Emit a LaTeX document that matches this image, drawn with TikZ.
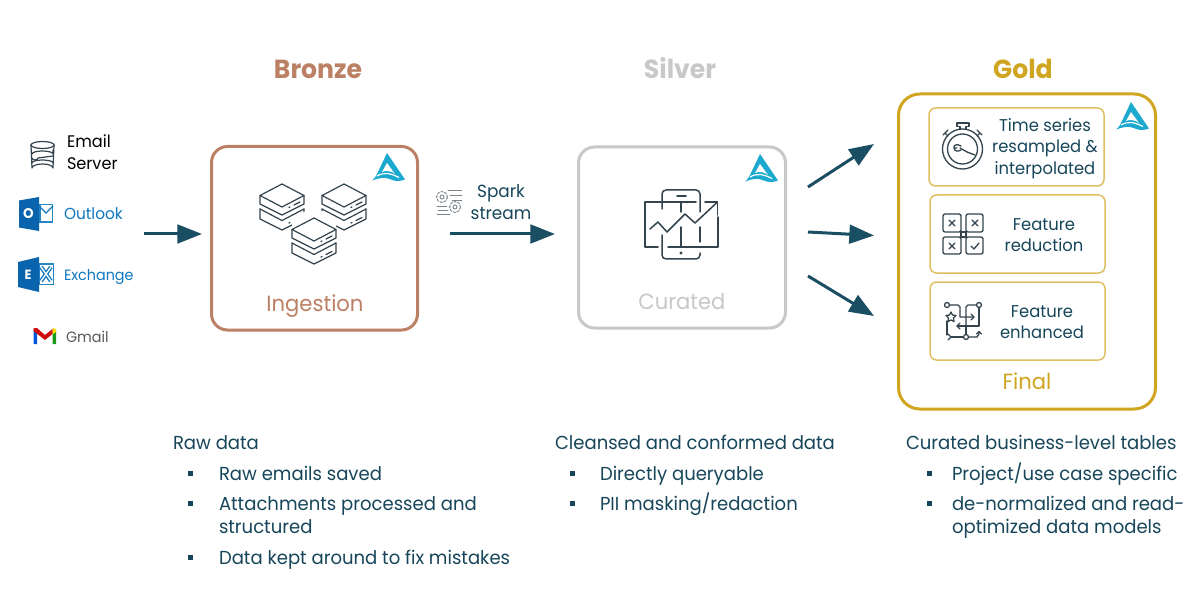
\documentclass[tikz,border=0pt]{standalone}
\usepackage{fontspec}
\setmainfont{Poppins}[FakeStretch=0.96]
\usetikzlibrary{arrows.meta}
\definecolor{teal}{HTML}{17465A}
\definecolor{arrowc}{HTML}{1A4E63}
\definecolor{bronzec}{HTML}{BC8064}
\definecolor{silverc}{HTML}{C8C8C8}
\definecolor{goldc}{HTML}{D0A51F}
\definecolor{goldl}{HTML}{E0BE62}
\definecolor{iconc}{HTML}{33444E}
\definecolor{logoc}{HTML}{1BA9CF}
\definecolor{msblue}{HTML}{0F78C0}
\definecolor{msdark}{HTML}{0A64AD}
\tikzset{
  x=0.75pt,y=-0.75pt,
  px/.style={line width=#1*0.75pt},
  lbl/.style={anchor=base west,inner sep=0pt,outer sep=0pt,text=teal,font=\fontsize{14.1}{17}\selectfont},
  mid/.style={anchor=base,inner sep=0pt,outer sep=0pt,text=teal,font=\fontsize{12.8}{16}\selectfont},
  title/.style={anchor=base,inner sep=0pt,outer sep=0pt,font=\fontsize{19.6}{23}\selectfont\bfseries},
  stage/.style={anchor=base,inner sep=0pt,outer sep=0pt,font=\fontsize{16.5}{20}\selectfont},
  flow/.style={draw=arrowc,px=3,-{Triangle[length=18.5pt,width=14pt,fill=arrowc]}},
  bul/.style={fill=teal,draw=none},
  ico/.style={draw=iconc,px=1.2,line join=round,line cap=round},
  frame/.style={draw=#1,px=3,rounded corners=12pt,fill=white},
  inner box/.style={draw=goldl,px=1.5,rounded corners=5pt,fill=white},
  logo/.pic={
    \fill[logoc] (-1,-15) -- (17,11.5) .. controls (12,13.5) and (7,13.5) .. (3,11.5) .. controls (-3,8.5) and (-9,10) .. (-16,12.5) .. controls (-13,10) and (-12,8) .. (-11,6) -- cycle;
    \fill[white] (-1,-5) -- (7,6) .. controls (4,3) and (-3,2) .. (-6,4) -- cycle;
    \draw[white,px=1.2] (-11,8) .. controls (-4,4) and (2,5) .. (11,9.5);
  },
  srv/.pic={
    \draw[ico] (0,0) -- (22,11.5) -- (0,23) -- (-22,11.5) -- cycle;
    \draw[ico] (-22,11.5) -- (-22,20) -- (0,31) -- (22,20) -- (22,11.5);
    \draw[ico] (-22,25) -- (-22,35) -- (0,46) -- (22,35) -- (22,25);
    \draw[ico] (-22,25) -- (0,36.5) -- (22,25);
    \draw[ico] (7,23.5) -- (8,23) (12,21) -- (18,18);
    \draw[ico] (7,39) -- (8,38.5) (12,36.5) -- (18,33.5);
  }
}
\begin{document}
\begin{tikzpicture}
\useasboundingbox[fill=white] (0,0) rectangle (1200,606);

% titles
\node[title,text=bronzec] (tBronze) at (318,79) {Bronze};
\node[title,text=silverc] (tSilver) at (680,79) {Silver};
\node[title,text=goldc] (tGold) at (1023,79) {Gold};

% stage frames
\path[frame=bronzec] (211.5,146.5) rectangle (417.5,330);
\path[frame=silverc] (578.5,147) rectangle (785.5,328);
\path[frame=goldc,rounded corners=16pt] (898.5,94) rectangle (1155.5,409);
\path[inner box] (929,108) rectangle (1104,186);
\path[inner box] (930,195) rectangle (1105,273);
\path[inner box] (930,282) rectangle (1105,360);

\node[stage,text=bronzec] (lIngest) at (315,311) {Ingestion};
\node[stage,text=silverc] (lCurated) at (682,309) {Curated};
\node[stage,text=goldc] (lFinal) at (1027,389) {Final};

% logos
\pic at (388,168) {logo};
\pic at (761,169) {logo};
\pic at (1132,117) {logo};

% servers
\pic at (282,184) {srv};
\pic at (344,184) {srv};
\path[fill=white] (292,218) -- (314,207) -- (336,218) -- (336,253) -- (314,265) -- (292,253) -- cycle;
\pic at (314,218) {srv};

% curated icon
\begin{scope}[ico,px=1.5]
\draw[rounded corners=3pt] (662,209) -- (662,190) -- (700,190) -- (700,212);
\draw[rounded corners=3pt] (662,235) -- (662,259) -- (700,259) -- (700,253);
\draw (700,227) -- (700,242);
\draw (677,196) -- (686,196);
\draw (681,202) -- (681,212) (681,227) -- (681,247);
\draw (696,202) -- (645,202) -- (645,247) -- (658,247);
\draw (668,247) -- (718,247) -- (718,217);
\draw (705,202) -- (717.5,202) -- (717.5,215);
\draw (650,229) -- (658,222) -- (667,232) -- (685,214) -- (695,223) -- (717,202.5);
\fill[iconc] (681,253) circle (1.6);
\end{scope}

% email server icon
\begin{scope}[ico]
\draw (31,145) arc[start angle=180,end angle=360,x radius=11.5,y radius=3.5];
\draw (31,145) arc[start angle=180,end angle=0,x radius=11.5,y radius=3.5];
\draw (31,145) -- (32,168) arc[start angle=180,end angle=360,x radius=10.5,y radius=4] -- (54,145);
\draw (32,154) arc[start angle=180,end angle=360,x radius=10.5,y radius=3] -- (53,150);
\draw (32,158) arc[start angle=180,end angle=0,x radius=3,y radius=2] -- (53,156);
\draw (32,163) arc[start angle=180,end angle=360,x radius=10.5,y radius=3];
\end{scope}
\node[lbl,text=black,font=\fontsize{12.6}{16}\selectfont] (email) at (67,148) {Email};
\node[lbl,text=black,font=\fontsize{12.6}{16}\selectfont] (server) at (67,170) {Server};

% outlook
\fill[msblue!90!white] (39,204) -- (53,204) -- (53,223) -- (39,223) -- cycle;
\fill[white] (40.5,205.5) -- (51.5,205.5) -- (51.5,221.5) -- (40.5,221.5) -- cycle;
\draw[msblue,px=1.2] (39,206) -- (46,213) -- (53,206);
\fill[msdark] (19,200.5) -- (39,197) -- (39,231) -- (19,227.5) -- cycle;
\node[anchor=center,inner sep=0pt,text=white,font=\fontsize{10.5}{12}\selectfont\bfseries] (oIcon) at (28.5,214) {O};
\node[lbl,text=msblue,font=\fontsize{12}{15}\selectfont] (outlook) at (64,220) {Outlook};

% exchange
\fill[msblue!90!white] (38,263) rectangle (54,285);
\fill[white] (39.5,264.5) rectangle (52.5,283.5);
\draw[msblue,px=4] (41,267) -- (51,281) (51,267) -- (41,281);
\draw[white,px=1.3] (41,267) -- (51,281) (51,267) -- (41,281);
\fill[msdark] (18,262) -- (39,257) -- (39,292) -- (18,287) -- cycle;
\node[anchor=center,inner sep=0pt,text=white,font=\fontsize{10}{12}\selectfont\bfseries] (eIcon) at (28,274.5) {E};
\node[lbl,text=msblue,font=\fontsize{11.2}{15}\selectfont] (exchange) at (64,281) {Exchange};

% gmail
\fill[blue!60!cyan!85!black] (33.5,330) -- (37,329) -- (37,344) -- (33.5,344) -- cycle;
\fill[green!55!black!90!white] (52.5,329) -- (56,330) -- (56,344) -- (52.5,344) -- cycle;
\fill[red!80!black!95!white] (33.5,328) -- (37,328) -- (45,335) -- (52.5,329) -- (52.5,334) -- (45,340) -- (33.5,331) -- cycle;
\fill[yellow!80!orange] (52.5,328) -- (56,329) -- (56,332) -- (52.5,334.5) -- cycle;
\node[lbl,text=black!65,font=\fontsize{11.2}{14}\selectfont] (gmail) at (66,342) {Gmail};

% spark
\node[mid,font=\fontsize{13.2}{16}\selectfont] (spark) at (501,198) {Spark};
\node[mid,font=\fontsize{13.2}{16}\selectfont] (stream) at (501,220) {stream};
\begin{scope}[ico,px=0.9,draw=iconc!65]
\draw (442,197) circle (2);
\draw (455,207) circle (2);
\draw[dash pattern=on 1.8pt off 1.2pt,px=1] (442,197) circle (5.5) (455,207) circle (5.5);
\draw (448,190) -- (462,190) (450,195) -- (462,195) (452,200) -- (462,200) (437,206) -- (447,206) (438,210) -- (448,210) (437,214) -- (450,214);
\end{scope}

% stopwatch
\begin{scope}[ico,px=1.3]
\draw (962.5,149) circle (20) (962.5,149) circle (15);
\draw (960,129) -- (960,126.5) -- (957,126.5) -- (957,123) -- (969,123) -- (969,126.5) -- (966,126.5) -- (966,129);
\draw (948,136) -- (945,133) (943,135) -- (948,130) (977,136) -- (980,133) (982,135) -- (977,130);
\draw (960,148) -- (967,152) -- (975,155);
\draw (961,146) .. controls (957,143.5) and (953,145) .. (954,148) -- (957,148) (954,148) .. controls (954,151) and (958,152) .. (961,150);
\end{scope}
\node[mid] (ts1) at (1045,132) {Time series};
\node[mid] (ts2) at (1045,153) {resampled \&};
\node[mid] (ts3) at (1045,175) {interpolated};

% feature reduction icon
\begin{scope}[ico,px=1.3]
\draw[rounded corners=1.5pt] (943,214) rectangle (961,232);
\draw[rounded corners=1.5pt] (966,214) rectangle (983,232);
\draw[rounded corners=1.5pt] (943,237) rectangle (961,254);
\draw[rounded corners=1.5pt] (966,237) rectangle (983,254);
\draw (949,220) -- (955,226) (955,220) -- (949,226);
\draw (972,220) -- (978,226) (978,220) -- (972,226);
\draw (949,243) -- (955,249) (955,243) -- (949,249);
\draw (971,246) -- (974,249) -- (979,243);
\draw (961,232) -- (961,237) (966,232) -- (966,237) (961,232) -- (966,232) (961,237) -- (966,237);
\end{scope}
\node[mid] (fr1) at (1044,231) {Feature};
\node[mid] (fr2) at (1044,252) {reduction};

% feature enhanced icon
\begin{scope}[ico,px=1.3]
\draw (947,305) circle (2.5) (979,305) circle (2.5) (966,337) circle (2.5);
\draw (949.5,305) -- (958,305) -- (960,307) -- (960,317) -- (974,317);
\draw (971,314) -- (974,317) -- (971,320);
\draw (976.5,305) -- (968,305) -- (966,307) -- (966,325);
\draw (979,307.5) -- (979,326) -- (957,326);
\draw (960,323) -- (957,326) -- (960,329);
\draw (966,326) -- (966,334.5);
\draw (968.5,337) -- (977,337) -- (979,334) -- (979,332);
\draw (976.5,334) -- (979,331.5) -- (981.5,334);
\draw (963.5,337) -- (951,337);
\draw (948,334) -- (951,337) -- (948,340);
\draw (947,321) -- (947,335);
\draw (951,312) -- (952.5,315) -- (956,315.5) -- (953.5,318) -- (954,321.5) -- (951,320) -- (948,321.5) -- (948.5,318) -- (946,315.5) -- (949.5,315) -- cycle;
\end{scope}
\node[mid] (fe1) at (1042,317) {Feature};
\node[mid] (fe2) at (1042,338) {enhanced};

% connectors
\coordinate (a1) at (144,234); \coordinate (b1) at (202,234);
\coordinate (a2) at (450,234); \coordinate (b2) at (555,234);
\coordinate (a3) at (808,187); \coordinate (b3) at (874,144);
\coordinate (a4) at (808,232); \coordinate (b4) at (874,235.5);
\coordinate (a5) at (808,276); \coordinate (b5) at (874,316);
\draw[flow] (a1) -- (b1);
\draw[flow] (a2) -- (b2);
\draw[flow] (a3) -- (b3);
\draw[flow] (a4) -- (b4);
\draw[flow] (a5) -- (b5);

% descriptions
\node[lbl] (d1) at (173,449) {Raw data};
\node[lbl] (d2) at (219,480) {Raw emails saved};
\node[lbl] (d3) at (219,510) {Attachments processed and};
\node[lbl] (d4) at (219,533) {structured};
\node[lbl] (d5) at (219,564) {Data kept around to fix mistakes};
\fill[bul] (188,471) rectangle (192.5,475.5);
\fill[bul] (188,501) rectangle (192.5,505.5);
\fill[bul] (188,555) rectangle (192.5,559.5);

\node[lbl] (s1) at (555,449) {Cleansed and conformed data};
\node[lbl] (s2) at (600,480) {Directly queryable};
\node[lbl] (s3) at (600,510) {PII masking/redaction};
\fill[bul] (570,471) rectangle (574.5,475.5);
\fill[bul] (570,501) rectangle (574.5,505.5);

\node[lbl] (g1) at (906,449) {Curated business-level tables};
\node[lbl] (g2) at (952,480) {Project/use case specific};
\node[lbl] (g3) at (952,510) {de-normalized and read-};
\node[lbl] (g4) at (952,533) {optimized data models};
\fill[bul] (927,471) rectangle (931.5,475.5);
\fill[bul] (927,501) rectangle (931.5,505.5);
\end{tikzpicture}
\end{document}
